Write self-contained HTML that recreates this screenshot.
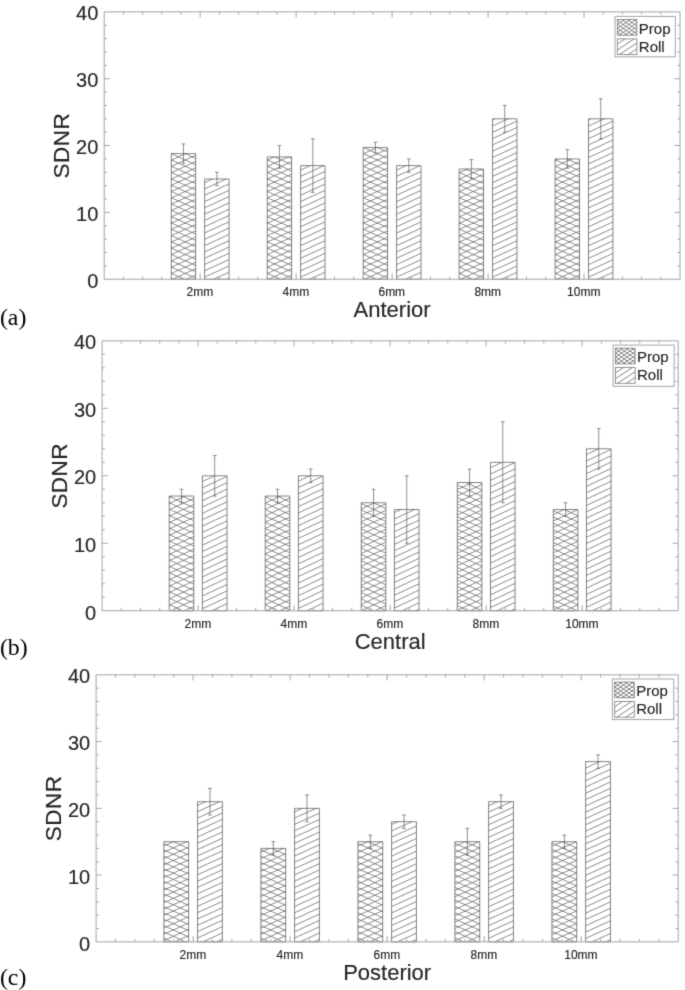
<!DOCTYPE html>
<html><head><meta charset="utf-8"><title>SDNR charts</title>
<style>html,body{margin:0;padding:0;background:#fff}svg{display:block}text{stroke:#262626;stroke-width:.15px}text.lab{stroke:none}</style></head>
<body>
<svg width="685" height="990" viewBox="0 0 685 990" font-family='"Liberation Sans", Arial, sans-serif' fill="#262626">
<defs>
<filter id="bl" x="0" y="0" width="685" height="990" filterUnits="userSpaceOnUse" color-interpolation-filters="sRGB"><feConvolveMatrix order="3" kernelMatrix="0.0144 0.0912 0.0144 0.0912 0.5776 0.0912 0.0144 0.0912 0.0144" divisor="1" edgeMode="duplicate" preserveAlpha="true"/></filter>
<clipPath id="caa"><path d="M171.27 153.6h24.4V279.25h-24.4ZM204.67 178.99h24.4V279.25h-24.4ZM267.23 156.94h24.4V279.25h-24.4ZM300.63 165.63h24.4V279.25h-24.4ZM363.2 147.58h24.4V279.25h-24.4ZM396.6 165.63h24.4V279.25h-24.4ZM459.17 168.97h24.4V279.25h-24.4ZM492.57 118.84h24.4V279.25h-24.4ZM555.13 158.94h24.4V279.25h-24.4ZM588.53 118.84h24.4V279.25h-24.4Z"/></clipPath>
<clipPath id="cpa"><path d="M171.27 153.6h24.4V279.25h-24.4ZM267.23 156.94h24.4V279.25h-24.4ZM363.2 147.58h24.4V279.25h-24.4ZM459.17 168.97h24.4V279.25h-24.4ZM555.13 158.94h24.4V279.25h-24.4Z"/></clipPath>
<clipPath id="l1a"><rect x="617.3" y="19.5" width="19.6" height="15.7"/></clipPath>
<clipPath id="l2a"><rect x="617.3" y="38.9" width="19.6" height="15.7"/></clipPath>
<clipPath id="cab"><path d="M169.22 496.04h24.6V610.75h-24.6ZM202.42 475.8h24.6V610.75h-24.6ZM265.23 496.04h24.6V610.75h-24.6ZM298.43 475.8h24.6V610.75h-24.6ZM361.25 502.79h24.6V610.75h-24.6ZM394.45 509.54h24.6V610.75h-24.6ZM457.27 482.55h24.6V610.75h-24.6ZM490.47 462.31h24.6V610.75h-24.6ZM553.28 509.54h24.6V610.75h-24.6ZM586.48 448.81h24.6V610.75h-24.6Z"/></clipPath>
<clipPath id="cpb"><path d="M169.22 496.04h24.6V610.75h-24.6ZM265.23 496.04h24.6V610.75h-24.6ZM361.25 502.79h24.6V610.75h-24.6ZM457.27 482.55h24.6V610.75h-24.6ZM553.28 509.54h24.6V610.75h-24.6Z"/></clipPath>
<clipPath id="l1b"><rect x="615.5" y="348.2" width="19.6" height="15.7"/></clipPath>
<clipPath id="l2b"><rect x="615.5" y="367.6" width="19.6" height="15.7"/></clipPath>
<clipPath id="cac"><path d="M163.87 841.73h24.8V941.85h-24.8ZM197.57 801.68h24.8V941.85h-24.8ZM260.88 848.4h24.8V941.85h-24.8ZM294.58 808.35h24.8V941.85h-24.8ZM357.9 841.73h24.8V941.85h-24.8ZM391.6 821.7h24.8V941.85h-24.8ZM454.92 841.73h24.8V941.85h-24.8ZM488.62 801.68h24.8V941.85h-24.8ZM551.93 841.73h24.8V941.85h-24.8ZM585.63 761.62h24.8V941.85h-24.8Z"/></clipPath>
<clipPath id="cpc"><path d="M163.87 841.73h24.8V941.85h-24.8ZM260.88 848.4h24.8V941.85h-24.8ZM357.9 841.73h24.8V941.85h-24.8ZM454.92 841.73h24.8V941.85h-24.8ZM551.93 841.73h24.8V941.85h-24.8Z"/></clipPath>
<clipPath id="l1c"><rect x="614.7" y="682.1" width="19.6" height="15.7"/></clipPath>
<clipPath id="l2c"><rect x="614.7" y="701.5" width="19.6" height="15.7"/></clipPath>
</defs>
<g filter="url(#bl)">
<rect width="685" height="990" fill="#fff"/>
<g id="panel-a"><path clip-path="url(#caa)" d="M170.27 110.19L613.93 -93.54M170.27 116.49L613.93 -87.24M170.27 122.79L613.93 -80.94M170.27 129.09L613.93 -74.64M170.27 135.39L613.93 -68.34M170.27 141.69L613.93 -62.04M170.27 147.99L613.93 -55.74M170.27 154.29L613.93 -49.44M170.27 160.59L613.93 -43.14M170.27 166.89L613.93 -36.84M170.27 173.19L613.93 -30.54M170.27 179.49L613.93 -24.24M170.27 185.79L613.93 -17.94M170.27 192.09L613.93 -11.64M170.27 198.39L613.93 -5.34M170.27 204.69L613.93 0.96M170.27 210.99L613.93 7.26M170.27 217.29L613.93 13.56M170.27 223.59L613.93 19.86M170.27 229.89L613.93 26.16M170.27 236.19L613.93 32.46M170.27 242.49L613.93 38.76M170.27 248.79L613.93 45.06M170.27 255.09L613.93 51.36M170.27 261.39L613.93 57.66M170.27 267.69L613.93 63.96M170.27 273.99L613.93 70.26M170.27 280.29L613.93 76.56M170.27 286.59L613.93 82.86M170.27 292.89L613.93 89.16M170.27 299.19L613.93 95.46M170.27 305.49L613.93 101.76M170.27 311.79L613.93 108.06M170.27 318.09L613.93 114.36M170.27 324.39L613.93 120.66M170.27 330.69L613.93 126.96M170.27 336.99L613.93 133.26M170.27 343.29L613.93 139.56M170.27 349.59L613.93 145.86M170.27 355.89L613.93 152.16M170.27 362.19L613.93 158.46M170.27 368.49L613.93 164.76M170.27 374.79L613.93 171.06M170.27 381.09L613.93 177.36M170.27 387.39L613.93 183.66M170.27 393.69L613.93 189.96M170.27 399.99L613.93 196.26M170.27 406.29L613.93 202.56M170.27 412.59L613.93 208.86M170.27 418.89L613.93 215.16M170.27 425.19L613.93 221.46M170.27 431.49L613.93 227.76M170.27 437.79L613.93 234.06M170.27 444.09L613.93 240.36M170.27 450.39L613.93 246.66M170.27 456.69L613.93 252.96M170.27 462.99L613.93 259.26M170.27 469.29L613.93 265.56M170.27 475.59L613.93 271.86M170.27 481.89L613.93 278.16M170.27 488.19L613.93 284.46M170.27 494.49L613.93 290.76" stroke="#606060" stroke-width="0.72" fill="none"/>
<path clip-path="url(#cpa)" d="M170.27 -92.59L613.93 111.14M170.27 -86.29L613.93 117.44M170.27 -79.99L613.93 123.74M170.27 -73.69L613.93 130.04M170.27 -67.39L613.93 136.34M170.27 -61.09L613.93 142.64M170.27 -54.79L613.93 148.94M170.27 -48.49L613.93 155.24M170.27 -42.19L613.93 161.54M170.27 -35.89L613.93 167.84M170.27 -29.59L613.93 174.14M170.27 -23.29L613.93 180.44M170.27 -16.99L613.93 186.74M170.27 -10.69L613.93 193.04M170.27 -4.39L613.93 199.34M170.27 1.91L613.93 205.64M170.27 8.21L613.93 211.94M170.27 14.51L613.93 218.24M170.27 20.81L613.93 224.54M170.27 27.11L613.93 230.84M170.27 33.41L613.93 237.14M170.27 39.71L613.93 243.44M170.27 46.01L613.93 249.74M170.27 52.31L613.93 256.04M170.27 58.61L613.93 262.34M170.27 64.91L613.93 268.64M170.27 71.21L613.93 274.94M170.27 77.51L613.93 281.24M170.27 83.81L613.93 287.54M170.27 90.11L613.93 293.84M170.27 96.41L613.93 300.14M170.27 102.71L613.93 306.44M170.27 109.01L613.93 312.74M170.27 115.31L613.93 319.04M170.27 121.61L613.93 325.34M170.27 127.91L613.93 331.64M170.27 134.21L613.93 337.94M170.27 140.51L613.93 344.24M170.27 146.81L613.93 350.54M170.27 153.11L613.93 356.84M170.27 159.41L613.93 363.14M170.27 165.71L613.93 369.44M170.27 172.01L613.93 375.74M170.27 178.31L613.93 382.04M170.27 184.61L613.93 388.34M170.27 190.91L613.93 394.64M170.27 197.21L613.93 400.94M170.27 203.51L613.93 407.24M170.27 209.81L613.93 413.54M170.27 216.11L613.93 419.84M170.27 222.41L613.93 426.14M170.27 228.71L613.93 432.44M170.27 235.01L613.93 438.74M170.27 241.31L613.93 445.04M170.27 247.61L613.93 451.34M170.27 253.91L613.93 457.64M170.27 260.21L613.93 463.94M170.27 266.51L613.93 470.24M170.27 272.81L613.93 476.54M170.27 279.11L613.93 482.84M170.27 285.41L613.93 489.14M170.27 291.71L613.93 495.44" stroke="#606060" stroke-width="0.72" fill="none"/>
<path d="M171.27 153.6h24.4V279.25h-24.4ZM204.67 178.99h24.4V279.25h-24.4ZM267.23 156.94h24.4V279.25h-24.4ZM300.63 165.63h24.4V279.25h-24.4ZM363.2 147.58h24.4V279.25h-24.4ZM396.6 165.63h24.4V279.25h-24.4ZM459.17 168.97h24.4V279.25h-24.4ZM492.57 118.84h24.4V279.25h-24.4ZM555.13 158.94h24.4V279.25h-24.4ZM588.53 118.84h24.4V279.25h-24.4Z" stroke="#606060" stroke-width="0.78" fill="none"/>
<path d="M183.47 143.9V163.29M181.57 143.9h3.8M181.57 163.29h3.8M216.87 172.31V185.68M214.97 172.31h3.8M214.97 185.68h3.8M279.43 145.57V168.3M277.53 145.57h3.8M277.53 168.3h3.8M312.83 138.89V192.36M310.93 138.89h3.8M310.93 192.36h3.8M375.4 142.23V152.93M373.5 142.23h3.8M373.5 152.93h3.8M408.8 158.94V172.31M406.9 158.94h3.8M406.9 172.31h3.8M471.37 159.61V178.33M469.47 159.61h3.8M469.47 178.33h3.8M504.77 105.47V132.21M502.87 105.47h3.8M502.87 132.21h3.8M567.33 149.59V168.3M565.43 149.59h3.8M565.43 168.3h3.8M600.73 98.79V138.89M598.83 98.79h3.8M598.83 138.89h3.8" stroke="#606060" stroke-width="0.7" fill="none"/>
<path d="M104.2 11.9H680V279.25H104.2ZM104.2 265.88h2.7M680 265.88h-2.7M104.2 252.51h2.7M680 252.51h-2.7M104.2 239.15h2.7M680 239.15h-2.7M104.2 225.78h2.7M680 225.78h-2.7M104.2 212.41h5.6M680 212.41h-5.6M104.2 199.04h2.7M680 199.04h-2.7M104.2 185.68h2.7M680 185.68h-2.7M104.2 172.31h2.7M680 172.31h-2.7M104.2 158.94h2.7M680 158.94h-2.7M104.2 145.57h5.6M680 145.57h-5.6M104.2 132.21h2.7M680 132.21h-2.7M104.2 118.84h2.7M680 118.84h-2.7M104.2 105.47h2.7M680 105.47h-2.7M104.2 92.1h2.7M680 92.1h-2.7M104.2 78.74h5.6M680 78.74h-5.6M104.2 65.37h2.7M680 65.37h-2.7M104.2 52h2.7M680 52h-2.7M104.2 38.63h2.7M680 38.63h-2.7M104.2 25.27h2.7M680 25.27h-2.7M123.39 279.25v-2.7M123.39 11.9v2.7M142.59 279.25v-2.7M142.59 11.9v2.7M161.78 279.25v-2.7M161.78 11.9v2.7M180.97 279.25v-2.7M180.97 11.9v2.7M200.17 279.25v-5.6M200.17 11.9v5.6M219.36 279.25v-2.7M219.36 11.9v2.7M238.55 279.25v-2.7M238.55 11.9v2.7M257.75 279.25v-2.7M257.75 11.9v2.7M276.94 279.25v-2.7M276.94 11.9v2.7M296.13 279.25v-5.6M296.13 11.9v5.6M315.33 279.25v-2.7M315.33 11.9v2.7M334.52 279.25v-2.7M334.52 11.9v2.7M353.71 279.25v-2.7M353.71 11.9v2.7M372.91 279.25v-2.7M372.91 11.9v2.7M392.1 279.25v-5.6M392.1 11.9v5.6M411.29 279.25v-2.7M411.29 11.9v2.7M430.49 279.25v-2.7M430.49 11.9v2.7M449.68 279.25v-2.7M449.68 11.9v2.7M468.87 279.25v-2.7M468.87 11.9v2.7M488.07 279.25v-5.6M488.07 11.9v5.6M507.26 279.25v-2.7M507.26 11.9v2.7M526.45 279.25v-2.7M526.45 11.9v2.7M545.65 279.25v-2.7M545.65 11.9v2.7M564.84 279.25v-2.7M564.84 11.9v2.7M584.03 279.25v-5.6M584.03 11.9v5.6M603.23 279.25v-2.7M603.23 11.9v2.7M622.42 279.25v-2.7M622.42 11.9v2.7M641.61 279.25v-2.7M641.61 11.9v2.7M660.81 279.25v-2.7M660.81 11.9v2.7" stroke="#a4a4a4" stroke-width="1" fill="none"/>
<text x="98.3" y="288.05" font-size="20" text-anchor="end">0</text>
<text x="98.3" y="221.06" font-size="20" text-anchor="end">10</text>
<text x="98.3" y="154.07" font-size="20" text-anchor="end">20</text>
<text x="98.3" y="87.09" font-size="20" text-anchor="end">30</text>
<text x="98.3" y="20.1" font-size="20" text-anchor="end">40</text>
<text x="199.87" y="296.35" font-size="12" text-anchor="middle">2mm</text>
<text x="295.83" y="296.35" font-size="12" text-anchor="middle">4mm</text>
<text x="391.8" y="296.35" font-size="12" text-anchor="middle">6mm</text>
<text x="487.77" y="296.35" font-size="12" text-anchor="middle">8mm</text>
<text x="583.73" y="296.35" font-size="12" text-anchor="middle">10mm</text>
<text x="392.1" y="317.35" font-size="22" text-anchor="middle">Anterior</text>
<text transform="translate(69.2 145.57) rotate(-90)" font-size="22.6" letter-spacing="0.4" text-anchor="middle">SDNR</text>
<rect x="615" y="16.4" width="60.3" height="40.4" fill="#fff" stroke="#a4a4a4" stroke-width="1"/>
<path clip-path="url(#l1a)" d="M616.3 13.37L637.9 -1.56M616.3 17.33L637.9 2.4M616.3 21.29L637.9 6.36M616.3 25.25L637.9 10.32M616.3 29.21L637.9 14.28M616.3 33.17L637.9 18.24M616.3 37.13L637.9 22.2M616.3 41.09L637.9 26.16M616.3 45.05L637.9 30.12M616.3 49.01L637.9 34.08M616.3 52.97L637.9 38.04M616.3 56.93L637.9 42M616.3 -4.13L637.9 10.8M616.3 -0.17L637.9 14.76M616.3 3.79L637.9 18.72M616.3 7.75L637.9 22.68M616.3 11.71L637.9 26.64M616.3 15.67L637.9 30.6M616.3 19.63L637.9 34.56M616.3 23.59L637.9 38.52M616.3 27.55L637.9 42.48M616.3 31.51L637.9 46.44M616.3 35.47L637.9 50.4M616.3 39.43L637.9 54.36M616.3 43.39L637.9 58.32" stroke="#606060" stroke-width="0.75" fill="none"/>
<path clip-path="url(#l2a)" d="M616.3 27.06L637.9 12.82M616.3 32.96L637.9 18.72M616.3 38.86L637.9 24.62M616.3 44.76L637.9 30.52M616.3 50.66L637.9 36.42M616.3 56.56L637.9 42.32M616.3 62.46L637.9 48.22M616.3 68.36L637.9 54.12M616.3 74.26L637.9 60.02M616.3 80.16L637.9 65.92" stroke="#606060" stroke-width="0.75" fill="none"/>
<rect x="617.3" y="19.5" width="19.6" height="15.7" fill="none" stroke="#7c7c7c" stroke-width="0.8"/>
<rect x="617.3" y="38.9" width="19.6" height="15.7" fill="none" stroke="#7c7c7c" stroke-width="0.8"/>
<text x="638.8" y="33.7" font-size="15">Prop</text>
<text x="638.8" y="51.6" font-size="15">Roll</text></g>
<text x="-0.1" y="325" font-family='"Liberation Serif", "Times New Roman", serif' font-size="23.8" fill="#000" class="lab">(a)</text>
<g id="panel-b"><path clip-path="url(#cab)" d="M168.22 440.29L612.08 232.71M168.22 446.65L612.08 239.07M168.22 453.01L612.08 245.43M168.22 459.37L612.08 251.79M168.22 465.73L612.08 258.15M168.22 472.09L612.08 264.51M168.22 478.45L612.08 270.87M168.22 484.81L612.08 277.23M168.22 491.17L612.08 283.59M168.22 497.53L612.08 289.95M168.22 503.89L612.08 296.31M168.22 510.25L612.08 302.67M168.22 516.61L612.08 309.03M168.22 522.97L612.08 315.39M168.22 529.33L612.08 321.75M168.22 535.69L612.08 328.11M168.22 542.05L612.08 334.47M168.22 548.41L612.08 340.83M168.22 554.77L612.08 347.19M168.22 561.13L612.08 353.55M168.22 567.49L612.08 359.91M168.22 573.85L612.08 366.27M168.22 580.21L612.08 372.63M168.22 586.57L612.08 378.99M168.22 592.93L612.08 385.35M168.22 599.29L612.08 391.71M168.22 605.65L612.08 398.07M168.22 612.01L612.08 404.43M168.22 618.37L612.08 410.79M168.22 624.73L612.08 417.15M168.22 631.09L612.08 423.51M168.22 637.45L612.08 429.87M168.22 643.81L612.08 436.23M168.22 650.17L612.08 442.59M168.22 656.53L612.08 448.95M168.22 662.89L612.08 455.31M168.22 669.25L612.08 461.67M168.22 675.61L612.08 468.03M168.22 681.97L612.08 474.39M168.22 688.33L612.08 480.75M168.22 694.69L612.08 487.11M168.22 701.05L612.08 493.47M168.22 707.41L612.08 499.83M168.22 713.77L612.08 506.19M168.22 720.13L612.08 512.55M168.22 726.49L612.08 518.91M168.22 732.85L612.08 525.27M168.22 739.21L612.08 531.63M168.22 745.57L612.08 537.99M168.22 751.93L612.08 544.35M168.22 758.29L612.08 550.71M168.22 764.65L612.08 557.07M168.22 771.01L612.08 563.43M168.22 777.37L612.08 569.79M168.22 783.73L612.08 576.15M168.22 790.09L612.08 582.51M168.22 796.45L612.08 588.87M168.22 802.81L612.08 595.23M168.22 809.17L612.08 601.59M168.22 815.53L612.08 607.95M168.22 821.89L612.08 614.31M168.22 828.25L612.08 620.67" stroke="#606060" stroke-width="0.72" fill="none"/>
<path clip-path="url(#cpb)" d="M168.22 228.77L612.08 436.35M168.22 235.13L612.08 442.71M168.22 241.49L612.08 449.07M168.22 247.85L612.08 455.43M168.22 254.21L612.08 461.79M168.22 260.57L612.08 468.15M168.22 266.93L612.08 474.51M168.22 273.29L612.08 480.87M168.22 279.65L612.08 487.23M168.22 286.01L612.08 493.59M168.22 292.37L612.08 499.95M168.22 298.73L612.08 506.31M168.22 305.09L612.08 512.67M168.22 311.45L612.08 519.03M168.22 317.81L612.08 525.39M168.22 324.17L612.08 531.75M168.22 330.53L612.08 538.11M168.22 336.89L612.08 544.47M168.22 343.25L612.08 550.83M168.22 349.61L612.08 557.19M168.22 355.97L612.08 563.55M168.22 362.33L612.08 569.91M168.22 368.69L612.08 576.27M168.22 375.05L612.08 582.63M168.22 381.41L612.08 588.99M168.22 387.77L612.08 595.35M168.22 394.13L612.08 601.71M168.22 400.49L612.08 608.07M168.22 406.85L612.08 614.43M168.22 413.21L612.08 620.79M168.22 419.57L612.08 627.15M168.22 425.93L612.08 633.51M168.22 432.29L612.08 639.87M168.22 438.65L612.08 646.23M168.22 445.01L612.08 652.59M168.22 451.37L612.08 658.95M168.22 457.73L612.08 665.31M168.22 464.09L612.08 671.67M168.22 470.45L612.08 678.03M168.22 476.81L612.08 684.39M168.22 483.17L612.08 690.75M168.22 489.53L612.08 697.11M168.22 495.89L612.08 703.47M168.22 502.25L612.08 709.83M168.22 508.61L612.08 716.19M168.22 514.97L612.08 722.55M168.22 521.33L612.08 728.91M168.22 527.69L612.08 735.27M168.22 534.05L612.08 741.63M168.22 540.41L612.08 747.99M168.22 546.77L612.08 754.35M168.22 553.13L612.08 760.71M168.22 559.49L612.08 767.07M168.22 565.85L612.08 773.43M168.22 572.21L612.08 779.79M168.22 578.57L612.08 786.15M168.22 584.93L612.08 792.51M168.22 591.29L612.08 798.87M168.22 597.65L612.08 805.23M168.22 604.01L612.08 811.59M168.22 610.37L612.08 817.95M168.22 616.73L612.08 824.31M168.22 623.09L612.08 830.67" stroke="#606060" stroke-width="0.72" fill="none"/>
<path d="M169.22 496.04h24.6V610.75h-24.6ZM202.42 475.8h24.6V610.75h-24.6ZM265.23 496.04h24.6V610.75h-24.6ZM298.43 475.8h24.6V610.75h-24.6ZM361.25 502.79h24.6V610.75h-24.6ZM394.45 509.54h24.6V610.75h-24.6ZM457.27 482.55h24.6V610.75h-24.6ZM490.47 462.31h24.6V610.75h-24.6ZM553.28 509.54h24.6V610.75h-24.6ZM586.48 448.81h24.6V610.75h-24.6Z" stroke="#606060" stroke-width="0.78" fill="none"/>
<path d="M181.52 489.3V502.79M179.62 489.3h3.8M179.62 502.79h3.8M214.72 455.56V496.04M212.82 455.56h3.8M212.82 496.04h3.8M277.53 489.3V502.79M275.63 489.3h3.8M275.63 502.79h3.8M310.73 469.05V482.55M308.83 469.05h3.8M308.83 482.55h3.8M373.55 489.3V516.28M371.65 489.3h3.8M371.65 516.28h3.8M406.75 475.8V543.27M404.85 475.8h3.8M404.85 543.27h3.8M469.57 469.05V496.04M467.67 469.05h3.8M467.67 496.04h3.8M502.77 421.82V502.79M500.87 421.82h3.8M500.87 502.79h3.8M565.58 502.79V516.28M563.68 502.79h3.8M563.68 516.28h3.8M598.78 428.57V469.05M596.88 428.57h3.8M596.88 469.05h3.8" stroke="#606060" stroke-width="0.7" fill="none"/>
<path d="M102.1 340.85H678.2V610.75H102.1ZM102.1 597.25h2.7M678.2 597.25h-2.7M102.1 583.76h2.7M678.2 583.76h-2.7M102.1 570.26h2.7M678.2 570.26h-2.7M102.1 556.77h2.7M678.2 556.77h-2.7M102.1 543.27h5.6M678.2 543.27h-5.6M102.1 529.78h2.7M678.2 529.78h-2.7M102.1 516.28h2.7M678.2 516.28h-2.7M102.1 502.79h2.7M678.2 502.79h-2.7M102.1 489.3h2.7M678.2 489.3h-2.7M102.1 475.8h5.6M678.2 475.8h-5.6M102.1 462.31h2.7M678.2 462.31h-2.7M102.1 448.81h2.7M678.2 448.81h-2.7M102.1 435.31h2.7M678.2 435.31h-2.7M102.1 421.82h2.7M678.2 421.82h-2.7M102.1 408.33h5.6M678.2 408.33h-5.6M102.1 394.83h2.7M678.2 394.83h-2.7M102.1 381.34h2.7M678.2 381.34h-2.7M102.1 367.84h2.7M678.2 367.84h-2.7M102.1 354.35h2.7M678.2 354.35h-2.7M121.3 610.75v-2.7M121.3 340.85v2.7M140.51 610.75v-2.7M140.51 340.85v2.7M159.71 610.75v-2.7M159.71 340.85v2.7M178.91 610.75v-2.7M178.91 340.85v2.7M198.12 610.75v-5.6M198.12 340.85v5.6M217.32 610.75v-2.7M217.32 340.85v2.7M236.52 610.75v-2.7M236.52 340.85v2.7M255.73 610.75v-2.7M255.73 340.85v2.7M274.93 610.75v-2.7M274.93 340.85v2.7M294.13 610.75v-5.6M294.13 340.85v5.6M313.34 610.75v-2.7M313.34 340.85v2.7M332.54 610.75v-2.7M332.54 340.85v2.7M351.74 610.75v-2.7M351.74 340.85v2.7M370.95 610.75v-2.7M370.95 340.85v2.7M390.15 610.75v-5.6M390.15 340.85v5.6M409.35 610.75v-2.7M409.35 340.85v2.7M428.56 610.75v-2.7M428.56 340.85v2.7M447.76 610.75v-2.7M447.76 340.85v2.7M466.96 610.75v-2.7M466.96 340.85v2.7M486.17 610.75v-5.6M486.17 340.85v5.6M505.37 610.75v-2.7M505.37 340.85v2.7M524.57 610.75v-2.7M524.57 340.85v2.7M543.78 610.75v-2.7M543.78 340.85v2.7M562.98 610.75v-2.7M562.98 340.85v2.7M582.18 610.75v-5.6M582.18 340.85v5.6M601.39 610.75v-2.7M601.39 340.85v2.7M620.59 610.75v-2.7M620.59 340.85v2.7M639.79 610.75v-2.7M639.79 340.85v2.7M659 610.75v-2.7M659 340.85v2.7" stroke="#a4a4a4" stroke-width="1" fill="none"/>
<text x="96.2" y="619.55" font-size="20" text-anchor="end">0</text>
<text x="96.2" y="551.93" font-size="20" text-anchor="end">10</text>
<text x="96.2" y="484.3" font-size="20" text-anchor="end">20</text>
<text x="96.2" y="416.68" font-size="20" text-anchor="end">30</text>
<text x="96.2" y="349.05" font-size="20" text-anchor="end">40</text>
<text x="197.82" y="627.85" font-size="12" text-anchor="middle">2mm</text>
<text x="293.83" y="627.85" font-size="12" text-anchor="middle">4mm</text>
<text x="389.85" y="627.85" font-size="12" text-anchor="middle">6mm</text>
<text x="485.87" y="627.85" font-size="12" text-anchor="middle">8mm</text>
<text x="581.88" y="627.85" font-size="12" text-anchor="middle">10mm</text>
<text x="390.15" y="648.85" font-size="22" text-anchor="middle">Central</text>
<text transform="translate(67.1 475.8) rotate(-90)" font-size="22.6" letter-spacing="0.4" text-anchor="middle">SDNR</text>
<rect x="613.2" y="345.1" width="60.9" height="41.2" fill="#fff" stroke="#a4a4a4" stroke-width="1"/>
<path clip-path="url(#l1b)" d="M614.5 342.07L636.1 327.14M614.5 346.03L636.1 331.1M614.5 349.99L636.1 335.06M614.5 353.95L636.1 339.02M614.5 357.91L636.1 342.98M614.5 361.87L636.1 346.94M614.5 365.83L636.1 350.9M614.5 369.79L636.1 354.86M614.5 373.75L636.1 358.82M614.5 377.71L636.1 362.78M614.5 381.67L636.1 366.74M614.5 385.63L636.1 370.7M614.5 324.57L636.1 339.5M614.5 328.53L636.1 343.46M614.5 332.49L636.1 347.42M614.5 336.45L636.1 351.38M614.5 340.41L636.1 355.34M614.5 344.37L636.1 359.3M614.5 348.33L636.1 363.26M614.5 352.29L636.1 367.22M614.5 356.25L636.1 371.18M614.5 360.21L636.1 375.14M614.5 364.17L636.1 379.1M614.5 368.13L636.1 383.06M614.5 372.09L636.1 387.02" stroke="#606060" stroke-width="0.75" fill="none"/>
<path clip-path="url(#l2b)" d="M614.5 355.76L636.1 341.52M614.5 361.66L636.1 347.42M614.5 367.56L636.1 353.32M614.5 373.46L636.1 359.22M614.5 379.36L636.1 365.12M614.5 385.26L636.1 371.02M614.5 391.16L636.1 376.92M614.5 397.06L636.1 382.82M614.5 402.96L636.1 388.72M614.5 408.86L636.1 394.62" stroke="#606060" stroke-width="0.75" fill="none"/>
<rect x="615.5" y="348.2" width="19.6" height="15.7" fill="none" stroke="#7c7c7c" stroke-width="0.8"/>
<rect x="615.5" y="367.6" width="19.6" height="15.7" fill="none" stroke="#7c7c7c" stroke-width="0.8"/>
<text x="637" y="362.4" font-size="15">Prop</text>
<text x="637" y="380.3" font-size="15">Roll</text></g>
<text x="-0.1" y="655.4" font-family='"Liberation Serif", "Times New Roman", serif' font-size="23.8" fill="#000" class="lab">(b)</text>
<g id="panel-c"><path clip-path="url(#cac)" d="M162.87 751.72L611.43 548.09M162.87 758.03L611.43 554.4M162.87 764.34L611.43 560.71M162.87 770.65L611.43 567.02M162.87 776.96L611.43 573.33M162.87 783.27L611.43 579.64M162.87 789.58L611.43 585.95M162.87 795.89L611.43 592.26M162.87 802.2L611.43 598.57M162.87 808.51L611.43 604.88M162.87 814.82L611.43 611.19M162.87 821.13L611.43 617.5M162.87 827.44L611.43 623.81M162.87 833.75L611.43 630.12M162.87 840.06L611.43 636.43M162.87 846.37L611.43 642.74M162.87 852.68L611.43 649.05M162.87 858.99L611.43 655.36M162.87 865.3L611.43 661.67M162.87 871.61L611.43 667.98M162.87 877.92L611.43 674.29M162.87 884.23L611.43 680.6M162.87 890.54L611.43 686.91M162.87 896.85L611.43 693.22M162.87 903.16L611.43 699.53M162.87 909.47L611.43 705.84M162.87 915.78L611.43 712.15M162.87 922.09L611.43 718.46M162.87 928.4L611.43 724.77M162.87 934.71L611.43 731.08M162.87 941.02L611.43 737.39M162.87 947.33L611.43 743.7M162.87 953.64L611.43 750.01M162.87 959.95L611.43 756.32M162.87 966.26L611.43 762.63M162.87 972.57L611.43 768.94M162.87 978.88L611.43 775.25M162.87 985.19L611.43 781.56M162.87 991.5L611.43 787.87M162.87 997.81L611.43 794.18M162.87 1004.12L611.43 800.49M162.87 1010.43L611.43 806.8M162.87 1016.74L611.43 813.11M162.87 1023.05L611.43 819.42M162.87 1029.36L611.43 825.73M162.87 1035.67L611.43 832.04M162.87 1041.98L611.43 838.35M162.87 1048.29L611.43 844.66M162.87 1054.6L611.43 850.97M162.87 1060.91L611.43 857.28M162.87 1067.22L611.43 863.59M162.87 1073.53L611.43 869.9M162.87 1079.84L611.43 876.21M162.87 1086.15L611.43 882.52M162.87 1092.46L611.43 888.83M162.87 1098.77L611.43 895.14M162.87 1105.08L611.43 901.45M162.87 1111.39L611.43 907.76M162.87 1117.7L611.43 914.07M162.87 1124.01L611.43 920.38M162.87 1130.32L611.43 926.69M162.87 1136.63L611.43 933M162.87 1142.94L611.43 939.31M162.87 1149.25L611.43 945.62M162.87 1155.56L611.43 951.93" stroke="#606060" stroke-width="0.72" fill="none"/>
<path clip-path="url(#cpc)" d="M162.87 546.6L611.43 750.23M162.87 552.91L611.43 756.54M162.87 559.22L611.43 762.85M162.87 565.53L611.43 769.16M162.87 571.84L611.43 775.47M162.87 578.15L611.43 781.78M162.87 584.46L611.43 788.09M162.87 590.77L611.43 794.4M162.87 597.08L611.43 800.71M162.87 603.39L611.43 807.02M162.87 609.7L611.43 813.33M162.87 616.01L611.43 819.64M162.87 622.32L611.43 825.95M162.87 628.63L611.43 832.26M162.87 634.94L611.43 838.57M162.87 641.25L611.43 844.88M162.87 647.56L611.43 851.19M162.87 653.87L611.43 857.5M162.87 660.18L611.43 863.81M162.87 666.49L611.43 870.12M162.87 672.8L611.43 876.43M162.87 679.11L611.43 882.74M162.87 685.42L611.43 889.05M162.87 691.73L611.43 895.36M162.87 698.04L611.43 901.67M162.87 704.35L611.43 907.98M162.87 710.66L611.43 914.29M162.87 716.97L611.43 920.6M162.87 723.28L611.43 926.91M162.87 729.59L611.43 933.22M162.87 735.9L611.43 939.53M162.87 742.21L611.43 945.84M162.87 748.52L611.43 952.15M162.87 754.83L611.43 958.46M162.87 761.14L611.43 964.77M162.87 767.45L611.43 971.08M162.87 773.76L611.43 977.39M162.87 780.07L611.43 983.7M162.87 786.38L611.43 990.01M162.87 792.69L611.43 996.32M162.87 799L611.43 1002.63M162.87 805.31L611.43 1008.94M162.87 811.62L611.43 1015.25M162.87 817.93L611.43 1021.56M162.87 824.24L611.43 1027.87M162.87 830.55L611.43 1034.18M162.87 836.86L611.43 1040.49M162.87 843.17L611.43 1046.8M162.87 849.48L611.43 1053.11M162.87 855.79L611.43 1059.42M162.87 862.1L611.43 1065.73M162.87 868.41L611.43 1072.04M162.87 874.72L611.43 1078.35M162.87 881.03L611.43 1084.66M162.87 887.34L611.43 1090.97M162.87 893.65L611.43 1097.28M162.87 899.96L611.43 1103.59M162.87 906.27L611.43 1109.9M162.87 912.58L611.43 1116.21M162.87 918.89L611.43 1122.52M162.87 925.2L611.43 1128.83M162.87 931.51L611.43 1135.14M162.87 937.82L611.43 1141.45M162.87 944.13L611.43 1147.76M162.87 950.44L611.43 1154.07" stroke="#606060" stroke-width="0.72" fill="none"/>
<path d="M163.87 841.73h24.8V941.85h-24.8ZM197.57 801.68h24.8V941.85h-24.8ZM260.88 848.4h24.8V941.85h-24.8ZM294.58 808.35h24.8V941.85h-24.8ZM357.9 841.73h24.8V941.85h-24.8ZM391.6 821.7h24.8V941.85h-24.8ZM454.92 841.73h24.8V941.85h-24.8ZM488.62 801.68h24.8V941.85h-24.8ZM551.93 841.73h24.8V941.85h-24.8ZM585.63 761.62h24.8V941.85h-24.8Z" stroke="#606060" stroke-width="0.78" fill="none"/>
<path d="M209.97 788.33V815.02M208.07 788.33h3.8M208.07 815.02h3.8M273.28 841.73V855.08M271.38 841.73h3.8M271.38 855.08h3.8M306.98 795V821.7M305.08 795h3.8M305.08 821.7h3.8M370.3 835.05V848.4M368.4 835.05h3.8M368.4 848.4h3.8M404 815.02V828.38M402.1 815.02h3.8M402.1 828.38h3.8M467.32 828.38V855.08M465.42 828.38h3.8M465.42 855.08h3.8M501.02 795V808.35M499.12 795h3.8M499.12 808.35h3.8M564.33 835.05V848.4M562.43 835.05h3.8M562.43 848.4h3.8M598.03 754.95V768.3M596.13 754.95h3.8M596.13 768.3h3.8" stroke="#606060" stroke-width="0.7" fill="none"/>
<path d="M96.1 674.85H678.2V941.85H96.1ZM96.1 928.5h2.7M678.2 928.5h-2.7M96.1 915.15h2.7M678.2 915.15h-2.7M96.1 901.8h2.7M678.2 901.8h-2.7M96.1 888.45h2.7M678.2 888.45h-2.7M96.1 875.1h5.6M678.2 875.1h-5.6M96.1 861.75h2.7M678.2 861.75h-2.7M96.1 848.4h2.7M678.2 848.4h-2.7M96.1 835.05h2.7M678.2 835.05h-2.7M96.1 821.7h2.7M678.2 821.7h-2.7M96.1 808.35h5.6M678.2 808.35h-5.6M96.1 795h2.7M678.2 795h-2.7M96.1 781.65h2.7M678.2 781.65h-2.7M96.1 768.3h2.7M678.2 768.3h-2.7M96.1 754.95h2.7M678.2 754.95h-2.7M96.1 741.6h5.6M678.2 741.6h-5.6M96.1 728.25h2.7M678.2 728.25h-2.7M96.1 714.9h2.7M678.2 714.9h-2.7M96.1 701.55h2.7M678.2 701.55h-2.7M96.1 688.2h2.7M678.2 688.2h-2.7M115.5 941.85v-2.7M115.5 674.85v2.7M134.91 941.85v-2.7M134.91 674.85v2.7M154.31 941.85v-2.7M154.31 674.85v2.7M173.71 941.85v-2.7M173.71 674.85v2.7M193.12 941.85v-5.6M193.12 674.85v5.6M212.52 941.85v-2.7M212.52 674.85v2.7M231.92 941.85v-2.7M231.92 674.85v2.7M251.33 941.85v-2.7M251.33 674.85v2.7M270.73 941.85v-2.7M270.73 674.85v2.7M290.13 941.85v-5.6M290.13 674.85v5.6M309.54 941.85v-2.7M309.54 674.85v2.7M328.94 941.85v-2.7M328.94 674.85v2.7M348.34 941.85v-2.7M348.34 674.85v2.7M367.75 941.85v-2.7M367.75 674.85v2.7M387.15 941.85v-5.6M387.15 674.85v5.6M406.55 941.85v-2.7M406.55 674.85v2.7M425.96 941.85v-2.7M425.96 674.85v2.7M445.36 941.85v-2.7M445.36 674.85v2.7M464.76 941.85v-2.7M464.76 674.85v2.7M484.17 941.85v-5.6M484.17 674.85v5.6M503.57 941.85v-2.7M503.57 674.85v2.7M522.97 941.85v-2.7M522.97 674.85v2.7M542.38 941.85v-2.7M542.38 674.85v2.7M561.78 941.85v-2.7M561.78 674.85v2.7M581.18 941.85v-5.6M581.18 674.85v5.6M600.59 941.85v-2.7M600.59 674.85v2.7M619.99 941.85v-2.7M619.99 674.85v2.7M639.39 941.85v-2.7M639.39 674.85v2.7M658.8 941.85v-2.7M658.8 674.85v2.7" stroke="#a4a4a4" stroke-width="1" fill="none"/>
<text x="90.2" y="950.65" font-size="20" text-anchor="end">0</text>
<text x="90.2" y="883.75" font-size="20" text-anchor="end">10</text>
<text x="90.2" y="816.85" font-size="20" text-anchor="end">20</text>
<text x="90.2" y="749.95" font-size="20" text-anchor="end">30</text>
<text x="90.2" y="683.05" font-size="20" text-anchor="end">40</text>
<text x="192.82" y="958.95" font-size="12" text-anchor="middle">2mm</text>
<text x="289.83" y="958.95" font-size="12" text-anchor="middle">4mm</text>
<text x="386.85" y="958.95" font-size="12" text-anchor="middle">6mm</text>
<text x="483.87" y="958.95" font-size="12" text-anchor="middle">8mm</text>
<text x="580.88" y="958.95" font-size="12" text-anchor="middle">10mm</text>
<text x="387.15" y="979.95" font-size="22" text-anchor="middle">Posterior</text>
<text transform="translate(61.1 808.35) rotate(-90)" font-size="22.6" letter-spacing="0.4" text-anchor="middle">SDNR</text>
<rect x="612.4" y="679" width="61.4" height="40.6" fill="#fff" stroke="#a4a4a4" stroke-width="1"/>
<path clip-path="url(#l1c)" d="M613.7 675.97L635.3 661.04M613.7 679.93L635.3 665M613.7 683.89L635.3 668.96M613.7 687.85L635.3 672.92M613.7 691.81L635.3 676.88M613.7 695.77L635.3 680.84M613.7 699.73L635.3 684.8M613.7 703.69L635.3 688.76M613.7 707.65L635.3 692.72M613.7 711.61L635.3 696.68M613.7 715.57L635.3 700.64M613.7 719.53L635.3 704.6M613.7 658.47L635.3 673.4M613.7 662.43L635.3 677.36M613.7 666.39L635.3 681.32M613.7 670.35L635.3 685.28M613.7 674.31L635.3 689.24M613.7 678.27L635.3 693.2M613.7 682.23L635.3 697.16M613.7 686.19L635.3 701.12M613.7 690.15L635.3 705.08M613.7 694.11L635.3 709.04M613.7 698.07L635.3 713M613.7 702.03L635.3 716.96M613.7 705.99L635.3 720.92" stroke="#606060" stroke-width="0.75" fill="none"/>
<path clip-path="url(#l2c)" d="M613.7 689.66L635.3 675.42M613.7 695.56L635.3 681.32M613.7 701.46L635.3 687.22M613.7 707.36L635.3 693.12M613.7 713.26L635.3 699.02M613.7 719.16L635.3 704.92M613.7 725.06L635.3 710.82M613.7 730.96L635.3 716.72M613.7 736.86L635.3 722.62M613.7 742.76L635.3 728.52" stroke="#606060" stroke-width="0.75" fill="none"/>
<rect x="614.7" y="682.1" width="19.6" height="15.7" fill="none" stroke="#7c7c7c" stroke-width="0.8"/>
<rect x="614.7" y="701.5" width="19.6" height="15.7" fill="none" stroke="#7c7c7c" stroke-width="0.8"/>
<text x="636.2" y="696.3" font-size="15">Prop</text>
<text x="636.2" y="714.2" font-size="15">Roll</text></g>
<text x="-0.1" y="984.6" font-family='"Liberation Serif", "Times New Roman", serif' font-size="23.8" fill="#000" class="lab">(c)</text>
</g>
</svg>
</body></html>
